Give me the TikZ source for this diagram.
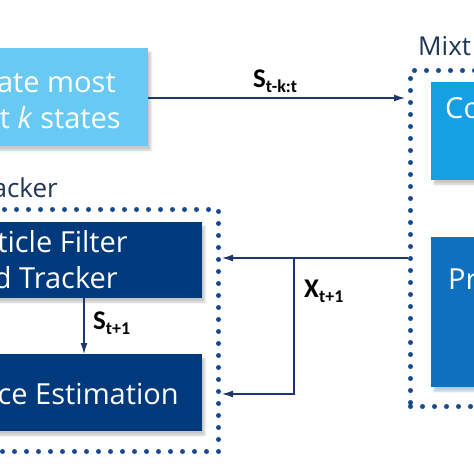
\documentclass[tikz,border=0pt]{standalone}
\usepackage{fontspec}
\setmainfont{Open Sans}
\newfontfamily\lblfont{Carlito}
\usetikzlibrary{arrows.meta,shadows.blur}
\definecolor{aggblue}{RGB}{104,201,242}
\definecolor{cobox}{RGB}{20,160,226}
\definecolor{prbox}{RGB}{16,112,192}
\definecolor{navybox}{RGB}{0,57,124}
\definecolor{dotcol}{RGB}{22,74,140}
\definecolor{linecol}{RGB}{30,55,112}
\definecolor{titlecol}{RGB}{32,52,88}
\newcommand{\lblsub}[1]{\raisebox{-5pt}{\fontsize{18}{20}\selectfont #1}}
\tikzset{
  boxshape/.style={rectangle, inner sep=0pt, draw=none,
    blur shadow={shadow xshift=3pt, shadow yshift=-4pt, shadow opacity=22, shadow blur steps=6}},
  dotbox/.style={rectangle, inner sep=0pt, draw=dotcol, line width=5pt,
    dash pattern=on 0pt off 12pt, line cap=round},
  boxtext/.style={text=white, font=\fontsize{29}{32}\selectfont, inner sep=0pt},
  titletext/.style={text=titlecol, font=\fontsize{26}{30}\selectfont, inner sep=0pt},
  lbl/.style={text=black, font=\lblfont\bfseries\fontsize{27}{30}\selectfont, inner sep=0pt},
  conn/.style={draw=linecol, line width=1.3pt},
  arrowconn/.style={conn, -{Latex[length=11pt,width=7pt]}},
}
\begin{document}
\begin{tikzpicture}[x=1pt,y=-1pt]
\useasboundingbox (0,0) rectangle (474,474);
\clip (0,0) rectangle (474,474);
% containers
\node[dotbox, minimum width=300pt, minimum height=242pt, anchor=north east] (trk) at (221,207) {};
\node[dotbox, minimum width=200pt, minimum height=336pt, anchor=north west] (mix) at (408,68) {};
% boxes
\node[boxshape, fill=aggblue, minimum width=260pt, minimum height=98pt, anchor=north east] (agg) at (148,48) {};
\node[boxshape, fill=cobox, minimum width=200pt, minimum height=98pt, anchor=north west] (co) at (431,82) {};
\node[boxshape, fill=prbox, minimum width=200pt, minimum height=150pt, anchor=north west] (pr) at (431,237) {};
\node[boxshape, fill=navybox, minimum width=300pt, minimum height=76pt, anchor=north east] (pf) at (202,222) {};
\node[boxshape, fill=navybox, minimum width=300pt, minimum height=77pt, anchor=north east] (est) at (202,354) {};
% texts
\node[boxtext, anchor=base east] (agg1) at (116,92) {ate most};
\node[boxtext, anchor=base east] (agg2) at (121,128) {t \textit{k} states};
\node[boxtext, anchor=base east] (pf1) at (128,252) {ticle Filter};
\node[boxtext, anchor=base east] (pf2) at (118,288) {d Tracker};
\node[boxtext, anchor=base east] (est1) at (179,404) {ce Estimation};
\node[boxtext, anchor=base west] (co1) at (445,118) {Co};
\node[boxtext, anchor=base west] (pr1) at (448,289) {Pr};
\node[titletext, anchor=base west] (mixt) at (418,55) {Mixt};
\node[titletext, anchor=base east] (trkt) at (58,197) {acker};
% connectors
\coordinate (j1) at (294,258);
\coordinate (j2) at (294,394);
\draw[arrowconn] (agg.east |- 0,98) -- ([xshift=-3pt]mix.west |- 0,98);
\draw[arrowconn] (mix.west |- j1) -- ([xshift=1pt]trk.east |- j1);
\draw[arrowconn] (j1) -- (j2) -- ([xshift=1pt]trk.east |- j2);
\draw[arrowconn] (pf.south -| 84,0) -- (est.north -| 84,0);
% labels
\node[lbl, anchor=base west] (ls1) at (253,87) {S\lblsub{t-k:t}};
\node[lbl, anchor=base west] (ls2) at (93,329) {S\lblsub{t+1}};
\node[lbl, anchor=base west] (lx1) at (304,297) {X\lblsub{t+1}};
\end{tikzpicture}
\end{document}
